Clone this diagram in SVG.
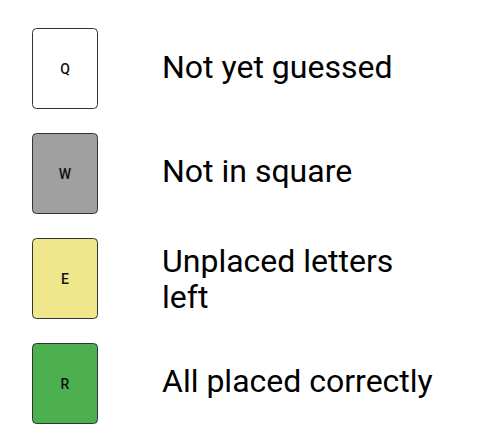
<svg xmlns="http://www.w3.org/2000/svg" width="487" height="448" viewBox="0 0 487 448">
<style>
.box{stroke:#333;stroke-width:1}
.k{font-family:Roboto,"Liberation Sans",sans-serif;font-size:14px;font-weight:500;fill:#111;text-anchor:middle}
.l{font-family:Roboto,"Liberation Sans",sans-serif;font-size:32px;fill:#000}
</style>
<rect width="487" height="448" fill="#fff"/>
<g id="q"><rect class="box" x="32.5" y="28.5" width="65" height="80" rx="4" fill="#fff"/><text class="k" x="65" y="74">Q</text><text class="l" x="162" y="78">Not yet guessed</text></g>
<g id="w"><rect class="box" x="32.5" y="133.5" width="65" height="80" rx="4" fill="#a0a0a0"/><text class="k" x="65" y="179">W</text><text class="l" x="162" y="182">Not in square</text></g>
<g id="e"><rect class="box" x="32.5" y="238.5" width="65" height="80" rx="4" fill="#f0e68c"/><text class="k" x="65" y="284">E</text><text class="l" x="162" y="272">Unplaced letters</text><text class="l" x="162" y="308">left</text></g>
<g id="r"><rect class="box" x="32.5" y="343.5" width="65" height="80" rx="4" fill="#4caf50"/><text class="k" x="65" y="389">R</text><text class="l" x="162" y="392">All placed correctly</text></g>
</svg>
